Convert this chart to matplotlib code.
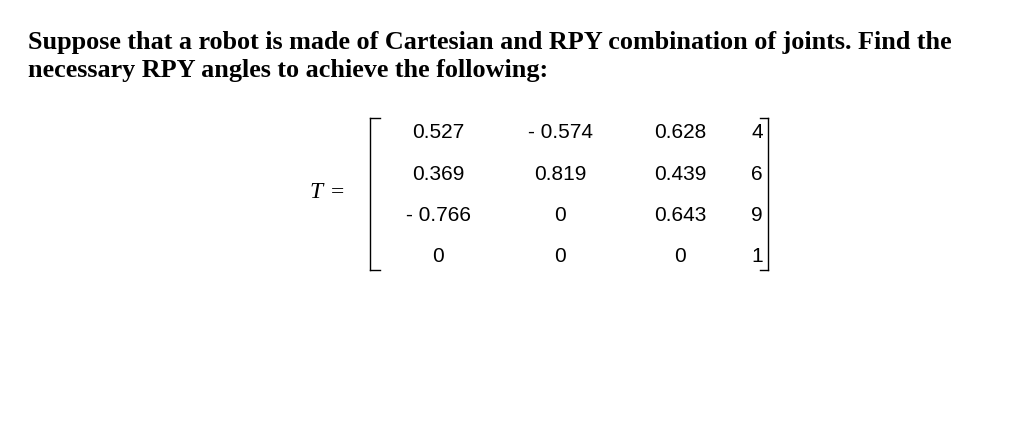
import matplotlib
matplotlib.use("Agg")
import matplotlib.pyplot as plt
from matplotlib.lines import Line2D

title_lines = ["Suppose that a robot is made of Cartesian and RPY combination of joints. Find the",
               "necessary RPY angles to achieve the following:"]
row1 = ["0.527", "- 0.574", "0.628", "4"]
row2 = ["0.369", "0.819", "0.439", "6"]
row3 = ["- 0.766", "0", "0.643", "9"]
row4 = ["0", "0", "0", "1"]
rows = [row1, row2, row3, row4]

W, H = 1024, 437
fig = plt.figure(figsize=(W/100, H/100), dpi=100)
def P(x, y): return x/W, 1 - y/H

fig.text(*P(28, 42), title_lines[0], family="Liberation Serif", weight="bold", fontsize=18.8, va="center", ha="left")
fig.text(*P(28, 70), title_lines[1], family="Liberation Serif", weight="bold", fontsize=18.8, va="center", ha="left")

col_x = [438, 560, 680, 757]
row_y = [132, 174, 215, 257]
for r, y in zip(rows, row_y):
    for j, (s, x) in enumerate(zip(r, col_x)):
        fig.text(*P(x, y), s, family="Liberation Sans", fontsize=15, ha="center", va="center")

fig.text(*P(309, 193), "T", family="Liberation Serif", style="italic", fontsize=17, ha="left", va="center")
fig.text(*P(331, 193), "=", family="Liberation Serif", fontsize=17, ha="left", va="center")

def line(x0, y0, x1, y1):
    fig.add_artist(Line2D([x0/W, x1/W], [1-y0/H, 1-y1/H], color="black", lw=1))
top, bot = 118, 270
line(370, top, 370, bot); line(370, top, 380, top); line(370, bot, 380, bot)
line(768, top, 768, bot); line(768, top, 760, top); line(768, bot, 760, bot)

fig.savefig("out.png", dpi=100, facecolor="white")
